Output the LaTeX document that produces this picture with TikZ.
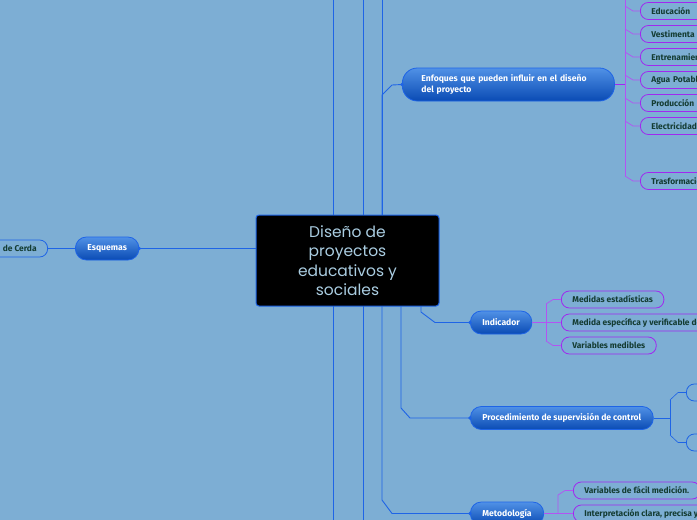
\documentclass[tikz,border=0pt]{standalone}
\usepackage{fontspec}
\setmainfont{Fira Sans}
\newfontfamily\titlefont{Poppins}
\definecolor{bgc}{RGB}{125,174,212}
\definecolor{lnc}{RGB}{30,100,230}
\definecolor{puc}{RGB}{160,40,240}
\definecolor{txc}{RGB}{20,60,50}
\begin{document}
\begin{tikzpicture}[x=1pt,y=-1pt,
  bl/.style={draw=lnc, line width=0.8pt, rounded corners=11pt, top color={rgb,255:red,80;green,145;blue,230}, bottom color={rgb,255:red,10;green,75;blue,180}, text=white, font=\bfseries\fontsize{8.6}{10.5}\selectfont, anchor=west, minimum height=23pt, inner xsep=12pt},
  pu/.style={draw=puc, line width=0.8pt, rounded corners=8pt, text=txc, font=\bfseries\fontsize{8.4}{9}\selectfont, anchor=west, minimum height=17pt, inner xsep=11pt},
  bo/.style={draw=lnc, line width=0.8pt, rounded corners=8pt, text=txc, font=\bfseries\fontsize{8.4}{9}\selectfont, anchor=west, minimum height=17pt, inner xsep=11pt},
  ln/.style={draw=lnc, line width=0.9pt},
  pl/.style={draw=puc!80!white, line width=0.7pt}]
\fill[bgc] (0,0) rectangle (697,520);
\useasboundingbox (0,0) rectangle (697,520);
\begin{scope}
\clip (0,0) rectangle (697,520);
% trunk lines
\draw[ln] (333,0) -- (333,520);
\draw[ln] (363,0) -- (363,520);
\draw[ln] (382,0) -- (382,215);
% central
\node[draw=lnc, line width=1pt, fill=black, rounded corners=3pt, minimum width=183pt, minimum height=91pt, align=center, text={rgb,255:red,170;green,205;blue,225}, font=\titlefont\fontsize{15.5}{19.5}\selectfont] (c) at (347.5,260.5) {Diseño de\\proyectos\\educativos y\\sociales};
% main nodes
\node[bl] (esq) at (75,248.5) {Esquemas};
\node[bo, anchor=east] (cerda) at (48,248.5) {de Cerda};
\node[bl, minimum height=33pt, rounded corners=15pt, text width=174pt, align=left, inner xsep=19pt, anchor=west] (enf) at (402,84.5) {Enfoques que pueden influir en el diseño\\del proyecto};
\node[bl] (ind) at (470,322.5) {Indicador};
\node[bl] (proc) at (470,418) {Procedimiento de supervisión de control};
\node[bl] (met) at (470,513.5) {Metodología};
% connectors main
\draw[ln] (c.west |- esq) -- (esq.east);
\fill[lnc] (esq.east) circle (1.8);
\draw[ln] (esq.west) -- (cerda.east);
\draw[ln] (382,215) -- (382,95) -- (392,85) -- (enf.west);
\fill[lnc] (enf.west) circle (1.8);
\draw[ln] (382,306) -- (382,500) -- (392,513.5) -- (met.west);
\fill[lnc] (met.west) circle (1.8);
\draw[ln] (401,306) -- (401,408) -- (410,418) -- (proc.west);
\fill[lnc] (proc.west) circle (1.8);
\draw[ln] (421,306) -- (421,312) -- (435,322.5) -- (ind.west);
\fill[lnc] (ind.west) circle (1.8);
% Enfoques children
\foreach \n/\t/\y in {e1/Educación/11, e2/Vestimenta/34, e3/Entrenamiento/57, e4/Agua Potable/80, e5/Producción/103, e6/Electricidad/126, e7/Trasformación/181}{
  \node[pu, text width=62pt, align=left] (\n) at (640,\y) {\t};
  \draw[pl] (625,\y-5) -- (633,\y) -- (\n.west);
}
\node[pu, text width=62pt] (e0) at (640,-12) {};
\draw[pl] (625,0) -- (625,176);
\draw[puc, line width=1.3pt] (enf.east) -- (625,84.5);
% Indicador children
\node[pu] (i1) at (561,299.5) {Medidas estadísticas};
\node[pu] (i2) at (561,322.5) {Medida específica y verificable de};
\node[pu] (i3) at (561,345.5) {Variables medibles};
\draw[pl] (ind.east) -- (i2.west);
\draw[pl] (546,304) -- (546,341);
\draw[pl] (546,304) -- (553,299.5) -- (i1.west);
\draw[pl] (546,341) -- (553,345.5) -- (i3.west);
% Procedimiento children
\node[bo, minimum width=40pt] (p1) at (686,392.5) {};
\node[bo, minimum width=40pt] (p2) at (686,442.5) {};
\draw[ln, line width=0.6pt] (proc.east) -- (670,418);
\draw[ln, line width=0.6pt] (670,400) -- (670,435);
\draw[ln, line width=0.6pt] (670,400) -- (678,392.5) -- (p1.west);
\draw[ln, line width=0.6pt] (670,435) -- (678,442.5) -- (p2.west);
% Metodologia children
\node[pu] (m1) at (573,490.5) {Variables de fácil medición.};
\node[pu] (m2) at (573,513.5) {Interpretación clara, precisa y};
\draw[pl] (met.east) -- (m2.west);
\draw[pl] (558,513.5) -- (558,495) -- (565,490.5) -- (m1.west);
\end{scope}
\end{tikzpicture}
\end{document}
